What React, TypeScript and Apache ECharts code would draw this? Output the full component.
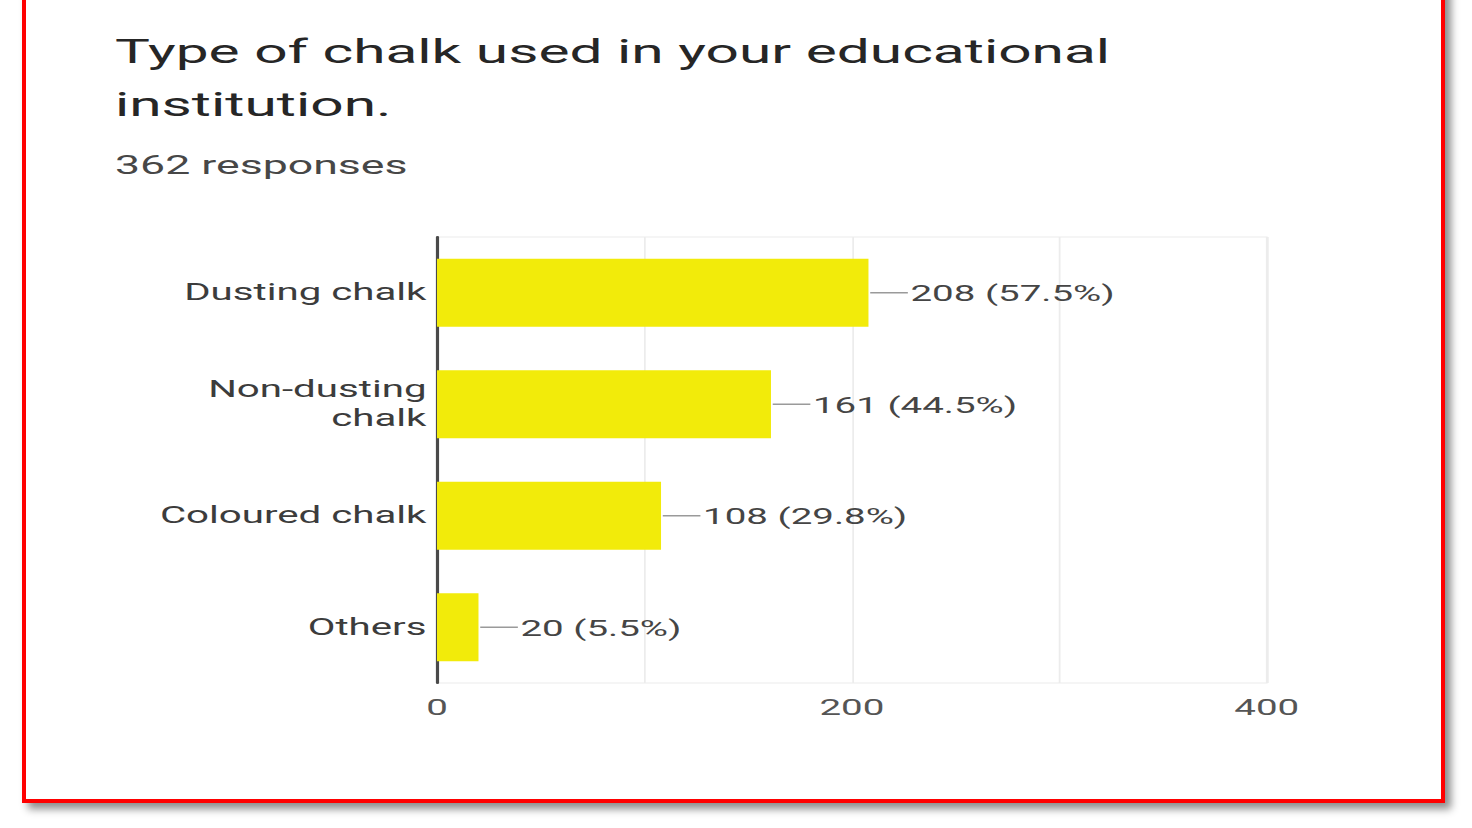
import React, { useEffect, useRef } from "react";
import * as echarts from "echarts";

const titleLines = ["Type of chalk used in your educational", "institution."];
const subtitleText = "362 responses";
const categories = ["Dusting chalk", "Non-dusting\nchalk", "Coloured chalk", "Others"];
const counts = [208, 161, 108, 20];
const percents = ["57.5%", "44.5%", "29.8%", "5.5%"];
const xTicks = [0, 100, 200, 300, 400];
const xLabelShown = [0, 200, 400];

const S = 1.75; // horizontal stretch of the reference
const PAGE_W = 1472;
const PAGE_H = 828;
const CW = PAGE_W / S;
const px = (X: number) => X / S;

export default function App() {
  const ref = useRef<HTMLDivElement>(null);
  useEffect(() => {
    if (!ref.current) return;
    const chart = echarts.init(ref.current, null, { renderer: "svg" });
    const valueLabels = counts.map((c, i) => `${c} (${percents[i]})`);
    chart.setOption({
      animation: false,
      backgroundColor: "transparent",
      title: [
        {
          text: titleLines.join("\n"),
          left: px(115),
          top: 25,
          padding: 0,
          textStyle: {
            fontFamily: "Roboto",
            fontSize: 33.5,
            fontWeight: "normal",
            color: "#262626",
            lineHeight: 53,
          },
        },
        {
          text: subtitleText,
          left: px(115),
          top: 150,
          padding: 0,
          textStyle: {
            fontFamily: "Roboto",
            fontSize: 25.5,
            fontWeight: "normal",
            color: "#474747",
            lineHeight: 30,
          },
        },
      ],
      grid: {
        left: px(437),
        right: CW - px(1267),
        top: 237,
        bottom: PAGE_H - 683,
        show: true,
        borderColor: "#ececec",
        borderWidth: 1,
        containLabel: false,
      },
      xAxis: {
        type: "value",
        min: xTicks[0],
        max: xTicks[xTicks.length - 1],
        interval: 100,
        axisLine: { show: false },
        axisTick: { show: false },
        splitLine: { show: true, lineStyle: { color: "#ececec", width: 1 } },
        axisLabel: {
          margin: 14,
          fontFamily: "Roboto",
          fontSize: 22,
          color: "#555555",
          formatter: (v: number) => (xLabelShown.includes(v) ? String(v) : ""),
        },
      },
      yAxis: {
        type: "category",
        data: categories,
        inverse: true,
        axisLine: { show: true, lineStyle: { color: "#4a4a4a", width: 1.8 } },
        axisTick: { show: false },
        splitLine: { show: false },
        axisLabel: {
          margin: 6,
          fontFamily: "Roboto",
          fontSize: 23,
          color: "#3c3c3c",
          lineHeight: 29,
          align: "right",
        },
      },
      series: [
        {
          type: "bar",
          data: counts,
          barCategoryGap: "39%",
          itemStyle: { color: "#f2eb0a" },
          z: 2,
        },
        {
          type: "custom",
          data: counts.map((c, i) => [c, i]),
          encode: { x: 0, y: 1 },
          z: 5,
          renderItem: (params: any, api: any) => {
            const v = api.value(0);
            const idx = api.value(1);
            const p = api.coord([v, idx]);
            return {
              type: "group",
              children: [
                {
                  type: "line",
                  shape: { x1: p[0] + 1, y1: p[1], x2: p[0] + 22.5, y2: p[1] },
                  style: { stroke: "#9a9a9a", lineWidth: 1.3 },
                },
                {
                  type: "text",
                  x: p[0] + 24,
                  y: p[1] + 1,
                  style: {
                    text: valueLabels[params.dataIndex],
                    fill: "#454545",
                    fontSize: 22,
                    fontFamily: "Roboto",
                    align: "left",
                    verticalAlign: "middle",
                  },
                },
              ],
            };
          },
        },
      ],
    });
    return () => chart.dispose();
  }, []);

  return (
    <div
      style={{
        position: "absolute",
        left: 0,
        top: 0,
        width: PAGE_W,
        height: PAGE_H,
        overflow: "hidden",
        background: "#ffffff",
      }}
    >
      <div
        style={{
          position: "absolute",
          left: 22,
          top: -30,
          width: 1445 - 22,
          height: 803 + 30,
          boxSizing: "border-box",
          border: "4px solid #ff0000",
          boxShadow: "6px 6px 8px rgba(0,0,0,0.45)",
          background: "#ffffff",
        }}
      />
      <div
        ref={ref}
        style={{
          position: "absolute",
          left: 0,
          top: 0,
          width: CW,
          height: PAGE_H,
          transform: `scaleX(${S})`,
          transformOrigin: "0 0",
        }}
      />
    </div>
  );
}
